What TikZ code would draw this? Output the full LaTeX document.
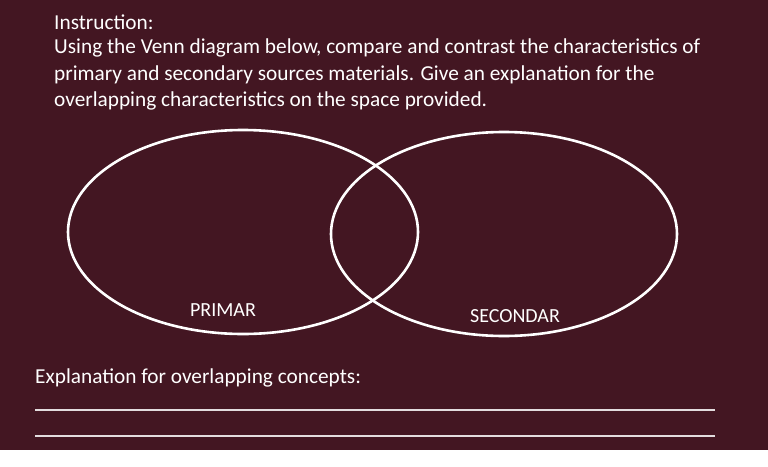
\documentclass[tikz,border=0pt]{standalone}
\usepackage{fontspec}
\setmainfont{Carlito}
\definecolor{bg}{HTML}{431622}
\begin{document}
\begin{tikzpicture}[x=1pt,y=-1pt,
  txt/.style={text=white,anchor=west,inner sep=0pt,font=\fontsize{21.3}{24}\selectfont},
  lbl/.style={text=white,inner sep=0pt,font=\fontsize{20}{22}\selectfont},
  ring/.style={draw=white,line width=2.6pt},
  rule/.style={draw=white!85!bg,line width=1.2pt}]
\useasboundingbox (0,0) rectangle (768,466);
\fill[bg] (0,0) rectangle (768,450);
\node[txt] (t1) at (54,22) {Instruction:};
\node[txt] (t2) at (54,48) {Using the Venn diagram below, compare and contrast the characteristics of};
\node[txt] (t3) at (54,75) {primary and secondary sources materials. Give an explanation for the};
\node[txt] (t4) at (54,101) {overlapping characteristics on the space provided.};
\draw[ring] (243,232) ellipse [x radius=175, y radius=102];
\draw[ring] (504,234) ellipse [x radius=173, y radius=102];
\node[lbl] (p) at (223,310) {PRIMAR};
\node[lbl] (s) at (515,316) {SECONDAR};
\node[txt] (e) at (35,378) {Explanation for overlapping concepts:};
\coordinate (a1) at (35,410); \coordinate (b1) at (715,410);
\coordinate (a2) at (35,436); \coordinate (b2) at (715,436);
\draw[rule] (a1) -- (b1);
\draw[rule] (a2) -- (b2);
\end{tikzpicture}
\end{document}
